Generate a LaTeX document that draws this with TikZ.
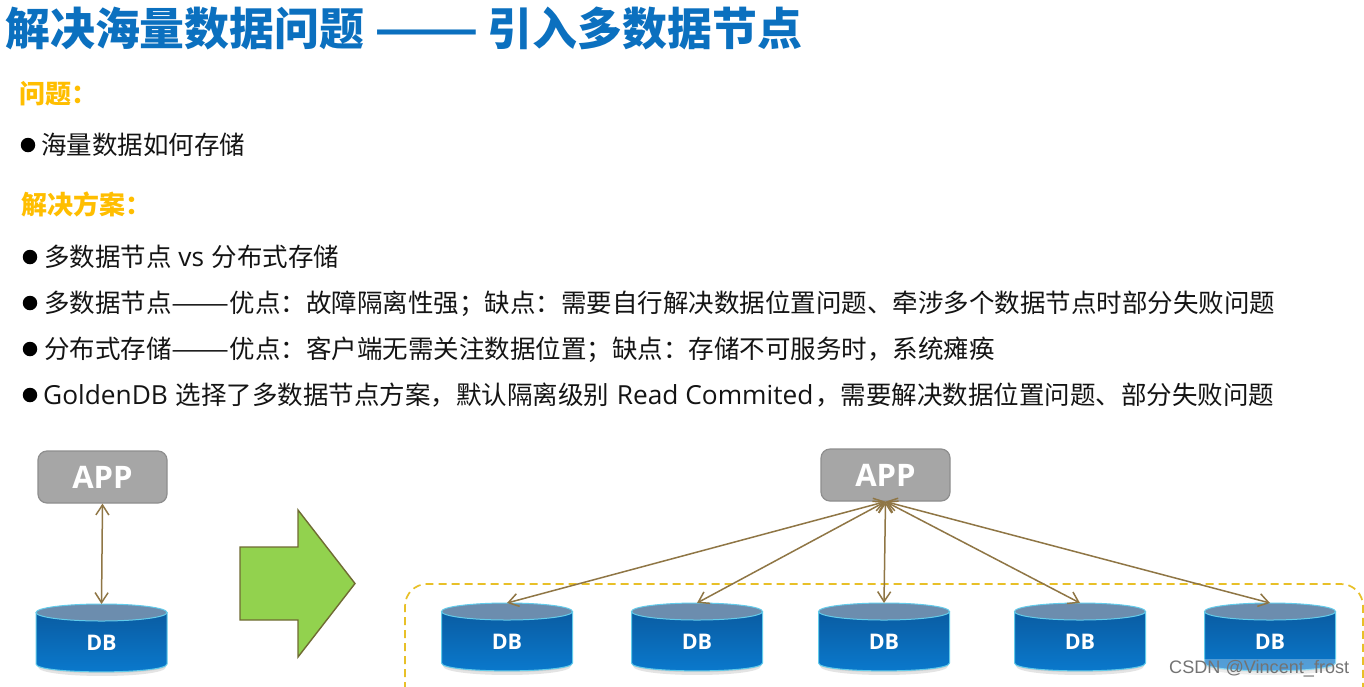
\documentclass[tikz,border=0pt]{standalone}
\usepackage{fontspec}
\setmainfont{Noto Sans CJK SC}
\newfontfamily\labelfont{Open Sans}
\newfontfamily\latinfont[Scale=1.03]{Open Sans}
\newfontfamily\markfont{Liberation Sans}
\usetikzlibrary{arrows.meta,shapes.geometric}
\definecolor{titleblue}{HTML}{0B70BF}
\definecolor{headgold}{HTML}{FFBE00}
\definecolor{linkbrown}{HTML}{8F7645}
\definecolor{dashgold}{HTML}{E8C028}
\definecolor{appfill}{HTML}{A6A6A6}
\definecolor{appedge}{HTML}{8E8E8E}
\definecolor{arrowgreen}{HTML}{92D24E}
\definecolor{arrowedge}{HTML}{6F6B33}
\definecolor{dbtop}{HTML}{0A5CA2}
\definecolor{dbbot}{HTML}{0A7ACE}
\definecolor{dbcap}{HTML}{6C8DAE}
\definecolor{dbglow}{HTML}{62CBEA}
\newcommand{\longdash}{\scalebox{1.36}[1]{——}}
\newcommand{\lat}[1]{{\latinfont #1}}
\tikzset{
  x=1pt,y=-1pt,
  title/.style={anchor=base west,inner sep=0pt,text=titleblue,font=\fontsize{44.9}{50}\selectfont\bfseries},
  head/.style={anchor=base west,inner sep=0pt,text=headgold,font=\fontsize{26}{30}\selectfont\bfseries},
  body/.style={anchor=base west,inner sep=0pt,text=black!92,font=\fontsize{25.5}{30}\selectfont},
  dot/.style={circle,fill=black,inner sep=0pt,minimum size=14.5pt},
  appbox/.style={draw=appedge,line width=1.2pt,fill=appfill,rounded corners=9pt,minimum width=129pt,minimum height=52pt,inner sep=0pt,text=white,font=\labelfont\fontsize{31}{34}\selectfont\bfseries},
  dbbox/.style={inner sep=0pt,outer sep=0pt,minimum width=131pt,minimum height=77pt,text=white,font=\labelfont\fontsize{21.5}{24}\selectfont\bfseries},
  link/.style={draw=linkbrown,line width=1.5pt,{Straight Barb[length=10pt,width=13pt]}-{Straight Barb[length=10pt,width=13pt]}},
  bigarrow/.style={fill=arrowgreen,draw=arrowedge,line width=1.4pt,line join=miter},
  zone/.style={draw=dashgold,line width=1.7pt,dash pattern=on 8pt off 5pt,rounded corners=22pt},
  stamp/.style={anchor=base west,inner sep=1pt,fill=white,fill opacity=.3,text opacity=1,text=black!55,font=\markfont\fontsize{18.1}{20}\selectfont},
}
% cylinder: #1 name, #2 centre x, #3 top y
\newcommand{\dbcyl}[3]{%
  \fill[black!35,opacity=.30] (#2-65,#3+61) .. controls (#2-65,#3+72) and (#2+65,#3+72) .. (#2+65,#3+61) -- cycle;
  \fill[black!35,opacity=.30] (#2-64,#3+63) .. controls (#2-64,#3+75) and (#2+64,#3+75) .. (#2+64,#3+63) -- cycle;
  \path[top color=dbtop,bottom color=dbbot,draw=dbglow,line width=1pt]
    (#2-65.5,#3+8.5) -- (#2-65.5,#3+60) .. controls (#2-65.5,#3+70.5) and (#2+65.5,#3+70.5) .. (#2+65.5,#3+60) -- (#2+65.5,#3+8.5) -- cycle;
  \draw[fill=dbcap,draw=dbglow,line width=1pt] (#2,#3+8.5) ellipse[x radius=65.5,y radius=8.5];
  \node[dbbox] (#1) at (#2,#3+38.5) {DB};
}
\begin{document}
\begin{tikzpicture}
\useasboundingbox[fill=white] (0,0) rectangle (1364,686);
% heading
\node[title] (t0) at (5,45) {解决海量数据问题 \longdash{}\hspace{-2pt} 引入多数据节点};
\node[head] (h1) at (19,103) {问题：};
\node[dot] (d0) at (28,145) {};
\node[body] (b0) at (41,154) {海量数据如何存储};
\node[head] (h2) at (21,214) {解决方案：};
\node[dot] (d1) at (30,257) {};
\node[body] (b1) at (44,266) {多数据节点\hspace{1pt} \lat{vs}\hspace{2pt} 分布式存储};
\node[dot] (d2) at (30,303) {};
\node[body] (b2) at (44,312) {多数据节点\longdash{}优点：故障隔离性强；缺点：需要自行解决数据位置问题、牵涉多个数据节点时部分失败问题};
\node[dot] (d3) at (30,349) {};
\node[body] (b3) at (44,358) {分布式存储\longdash{}优点：客户端无需关注数据位置；缺点：存储不可服务时，系统瘫痪};
\node[dot] (d4) at (30,395) {};
\node[body] (b4) at (43,404) {\lat{GoldenDB}\hspace{2pt} 选择了多数据节点方案，默认隔离级别\hspace{2pt} \lat{Read Commited}\hspace{2pt}，需要解决数据位置问题、部分失败问题};
% left stack
\node[appbox] (appL) at (102.5,477) {APP};
\dbcyl{dbL}{101.5}{604}
\draw[link] (appL.south) -- (dbL.north);
% big arrow
\draw[bigarrow] (240,547) -- (298,547) -- (298,510) -- (355,583.5) -- (298,657) -- (298,620) -- (240,620) -- cycle;
% zone
\draw[zone] (405,690) -- (405,584) -- (1363,584) -- (1363,690);
% right stack
\node[appbox] (appR) at (885.5,475) {APP};
\dbcyl{dbA}{507}{603}
\dbcyl{dbB}{697}{603}
\dbcyl{dbC}{884}{603}
\dbcyl{dbD}{1080}{603}
\dbcyl{dbE}{1270}{603}
\foreach \target in {dbA,dbB,dbC,dbD,dbE}
  \draw[link] (appR.south) -- (\target.north);
% watermark
\node[stamp] (wm) at (1168,673) {CSDN @Vincent\_frost};
\end{tikzpicture}
\end{document}
